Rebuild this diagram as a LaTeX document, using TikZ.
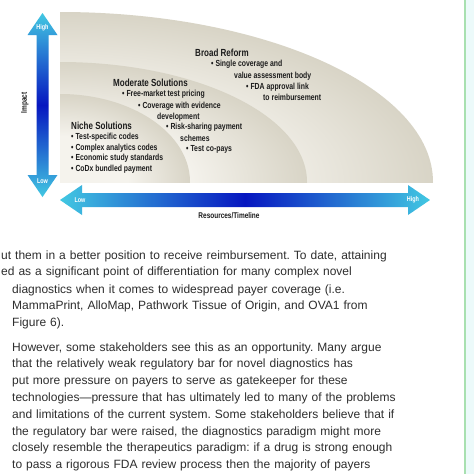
\documentclass[tikz,border=0pt]{standalone}
\usepackage{fontspec}
\setmainfont{Liberation Sans}
\newfontfamily\condfont[FakeStretch=0.78]{Liberation Sans}
\usetikzlibrary{positioning}

\definecolor{panellight}{RGB}{245,243,237}
\definecolor{paneldark}{RGB}{216,212,198}
\definecolor{arrowcyan}{RGB}{66,200,226}
\definecolor{arrowblue}{RGB}{6,22,192}
\definecolor{textdark}{RGB}{28,28,28}
\definecolor{rulegreen}{RGB}{168,224,176}
\definecolor{sidecyan}{RGB}{236,250,250}

\pgfdeclareradialshading{band}{\pgfpoint{0bp}{0bp}}{color(0bp)=(panellight); color(13bp)=(panellight); color(25bp)=(paneldark); color(50bp)=(paneldark)}

\begin{document}
\frenchspacing
\begin{tikzpicture}[x=1pt, y=-1pt,
    heading/.style={font=\condfont\bfseries\fontsize{10.3}{11}\selectfont, text=textdark, anchor=west, inner sep=0},
    item/.style={font=\condfont\bfseries\fontsize{8.8}{11}\selectfont, text=textdark, anchor=west, inner sep=0},
    tag/.style={font=\condfont\bfseries\fontsize{7}{8}\selectfont, text=white, inner sep=0},
    axislabel/.style={font=\condfont\bfseries\fontsize{8.3}{9}\selectfont, text=textdark, inner sep=0},
    body/.style={font=\fontsize{12}{16.8}\selectfont, text=black!82, anchor=base west, inner sep=0, text width=460pt, align=left}]

        \useasboundingbox (0,0) rectangle (474,474);
        \fill[white] (0,0) rectangle (474,474);

        % Side rule
        \fill[sidecyan] (466,0) rectangle (474,474);
        \draw[rulegreen, line width=2pt] (465,0) -- (465,474);

        % Bands (outer to inner)
        \foreach \rx/\ry in {373/170, 247/120, 130/88}{
          \begin{scope}
            \clip (60,0) rectangle (440,182);
            \shade[shading=band] (60,182) ellipse [x radius=\rx pt, y radius=\ry pt];
          \end{scope}
        }

        % Impact arrow
        \shade[top color=arrowcyan, bottom color=arrowcyan, middle color=arrowblue]
          (42.5,13) -- (57.5,35) -- (48.5,35) -- (48.5,175) -- (57.5,175) -- (42.5,197)
          -- (27.5,175) -- (36.5,175) -- (36.5,35) -- (27.5,35) -- cycle;
        \node[tag] (vhigh) at (42.5,28) {High};
        \node[tag] (vlow) at (42.5,181) {Low};
        \node[axislabel, rotate=90] (impact) at (25,103) {Impact};

        % Resources arrow
        \shade[left color=arrowcyan, right color=arrowcyan, middle color=arrowblue]
          (60,200) -- (82,185) -- (82,193) -- (408,193) -- (408,185) -- (430,200)
          -- (408,215) -- (408,207) -- (82,207) -- (82,215) -- cycle;
        \node[tag] (hlow) at (80,200) {Low};
        \node[tag] (hhigh) at (413,200) {High};
        \node[axislabel] (timeline) at (229,216) {Resources/Timeline};

        % Broad reform
        \node[heading] (broad) at (195,53) {Broad Reform};
        \node[item] (broad1) at (211,64) {\textbullet~Single coverage and};
        \node[item] (broad1b) at (234,76) {value assessment body};
        \node[item] (broad2) at (246,87) {\textbullet~FDA approval link};
        \node[item] (broad2b) at (263,97) {to reimbursement};

        % Moderate solutions
        \node[heading] (moderate) at (113,83) {Moderate Solutions};
        \node[item] (mod1) at (122,94) {\textbullet~Free-market test pricing};
        \node[item] (mod2) at (138,106) {\textbullet~Coverage with evidence};
        \node[item] (mod2b) at (157,117) {development};
        \node[item] (mod3) at (166,127) {\textbullet~Risk-sharing payment};
        \node[item] (mod3b) at (180,138) {schemes};
        \node[item] (mod4) at (186,149) {\textbullet~Test co-pays};

        % Niche solutions
        \node[heading] (niche) at (71,126) {Niche Solutions};
        \foreach \t [count=\i] in {Test-specific codes, Complex analytics codes, Economic study standards, CoDx bundled payment}
          \node[item] (niche\i) at (71,{126+10.9*\i}) {\textbullet~\t};

        % Running text
        \node[body] (cutlines) at (1,259) {ut them in a better position to receive reimbursement. To date, attaining\\ed as a significant point of differentiation for many complex novel};
        \node[body] (para1) at (12,293) {diagnostics when it comes to widespread payer coverage (i.e.\\MammaPrint, AlloMap, Pathwork Tissue of Origin, and OVA1 from\\Figure 6).};
        \node[body] (para2) at (12,351) {However, some stakeholders see this as an opportunity. Many argue\\that the relatively weak regulatory bar for novel diagnostics has\\put more pressure on payers to serve as gatekeeper for these\\technologies—pressure that has ultimately led to many of the problems\\and limitations of the current system. Some stakeholders believe that if\\the regulatory bar were raised, the diagnostics paradigm might more\\closely resemble the therapeutics paradigm: if a drug is strong enough\\to pass a rigorous FDA review process then the majority of payers};

    \end{tikzpicture}
\end{document}
